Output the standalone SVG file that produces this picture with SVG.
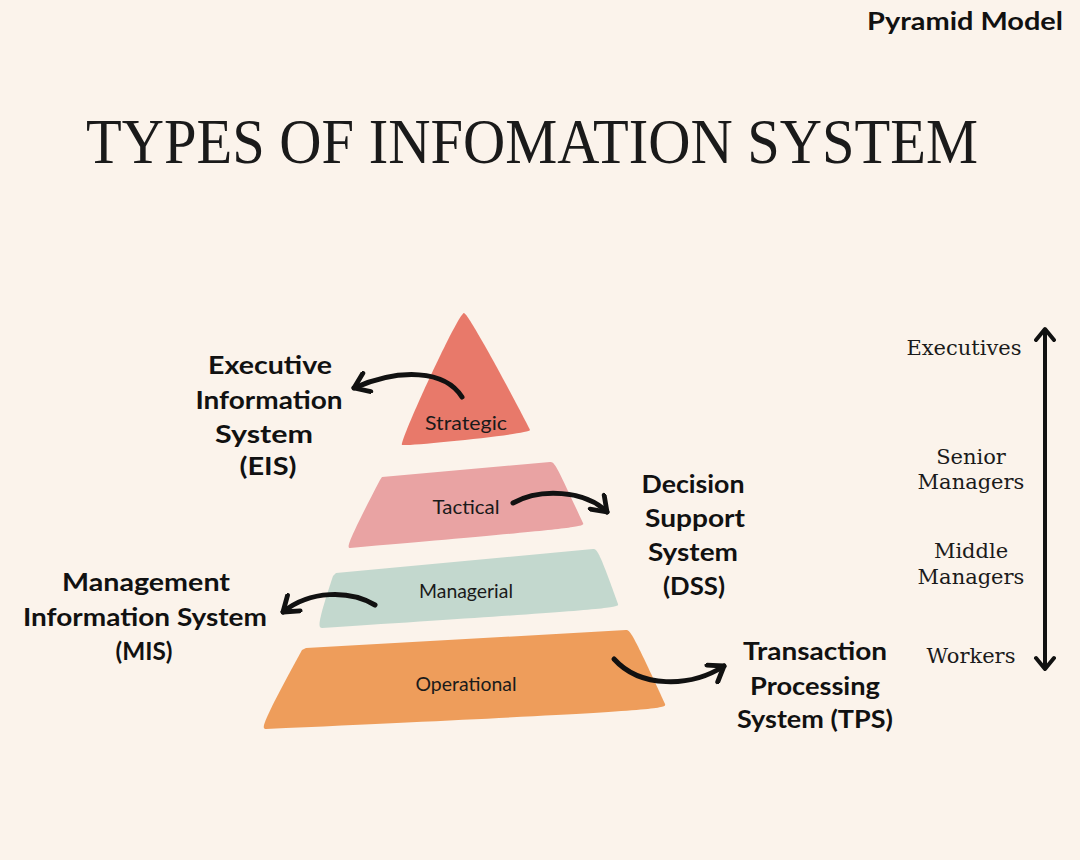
<svg xmlns="http://www.w3.org/2000/svg" width="1080" height="860" viewBox="0 0 1080 860">
<defs>
<style>
.hand{font-family:"Lato","Noto Sans",sans-serif;font-weight:bold;fill:#111;text-anchor:middle;font-size:25px}
.lbl{font-family:"Lato","Noto Sans",sans-serif;font-size:20px;fill:#1a1a1a;text-anchor:middle}
.serif{font-family:"DejaVu Serif","Liberation Serif",serif;fill:#1a1a1a;text-anchor:middle}
.conn{fill:none;stroke:#111;stroke-width:5;stroke-linecap:round}
</style>
<marker id="ah" viewBox="0 0 12 12" refX="9" refY="6" markerWidth="4.8" markerHeight="4.8" orient="auto" markerUnits="strokeWidth">
<path d="M2,1 L9,6 L2,11" fill="none" stroke="#111" stroke-width="2.4" stroke-linecap="round" stroke-linejoin="round"/>
</marker>
</defs>
<rect width="1080" height="860" fill="#FBF3EB"/>
<text x="965" y="30" class="hand" font-size="22" textLength="196" lengthAdjust="spacingAndGlyphs">Pyramid Model</text>
<text transform="translate(532,163) scale(1,1.1)" x="0" y="0" font-family="Liberation Serif, serif" font-size="58.5" fill="#1a1a1a" text-anchor="middle">TYPES OF INFOMATION SYSTEM</text>

<g id="strategic">
<path d="M464,313 C470,315 528,425 530,430 C531,434 410,446 402,445 C398,444 458,313 464,313 Z" fill="#E8796A"/>
<text x="466" y="430" class="lbl" textLength="82" lengthAdjust="spacingAndGlyphs">Strategic</text>
</g>
<g id="tactical">
<path d="M382,477 L550,462 C555,462 556,465 583,523 C585,527 580,528 350,548 C347,548 346,545 380,480 Z" fill="#E9A3A3"/>
<text x="466" y="514" class="lbl" textLength="67" lengthAdjust="spacingAndGlyphs">Tactical</text>
</g>
<g id="managerial">
<path d="M336,573 L593,549 C597,549 599,551 618,604 C619,608 615,609 322,628 C318,628 317,624 333,576 Z" fill="#C3D8CE"/>
<text x="466" y="598" class="lbl" textLength="94" lengthAdjust="spacingAndGlyphs">Managerial</text>
</g>
<g id="operational">
<path d="M306,648 L626,630 C630,630 632,632 665,704 C667,709 662,711 266,729 C261,729 261,725 302,650 Z" fill="#EE9D5B"/>
<text x="466" y="691" class="lbl" textLength="101" lengthAdjust="spacingAndGlyphs">Operational</text>
</g>

<g id="eis">
<text class="hand" x="270" y="374" textLength="124" lengthAdjust="spacingAndGlyphs">Executive</text>
<text class="hand" x="269" y="409" textLength="147" lengthAdjust="spacingAndGlyphs">Information</text>
<text class="hand" x="264" y="443" textLength="98" lengthAdjust="spacingAndGlyphs">System</text>
<text class="hand" x="268" y="475" textLength="57" lengthAdjust="spacingAndGlyphs">(EIS)</text>
</g>
<g id="dss">
<text class="hand" x="693" y="493" textLength="103" lengthAdjust="spacingAndGlyphs">Decision</text>
<text class="hand" x="695" y="527" textLength="100" lengthAdjust="spacingAndGlyphs">Support</text>
<text class="hand" x="693" y="561" textLength="90" lengthAdjust="spacingAndGlyphs">System</text>
<text class="hand" x="694" y="595" textLength="62" lengthAdjust="spacingAndGlyphs">(DSS)</text>
</g>
<g id="mis">
<text class="hand" x="146" y="591" textLength="168" lengthAdjust="spacingAndGlyphs">Management</text>
<text class="hand" x="145" y="626" textLength="244" lengthAdjust="spacingAndGlyphs">Information System</text>
<text class="hand" x="144" y="660" textLength="57" lengthAdjust="spacingAndGlyphs">(MIS)</text>
</g>
<g id="tps">
<text class="hand" x="815" y="660" textLength="144" lengthAdjust="spacingAndGlyphs">Transaction</text>
<text class="hand" x="815" y="695" textLength="130" lengthAdjust="spacingAndGlyphs">Processing</text>
<text class="hand" x="815" y="728" textLength="156" lengthAdjust="spacingAndGlyphs">System (TPS)</text>
</g>

<g id="levels">
<text class="serif" font-size="21" x="964" y="355">Executives</text>
<text class="serif" font-size="21"><tspan x="971" y="464">Senior</tspan><tspan x="971" y="489">Managers</tspan></text>
<text class="serif" font-size="21"><tspan x="971" y="558">Middle</tspan><tspan x="971" y="584">Managers</tspan></text>
<text class="serif" font-size="21" x="971" y="663">Workers</text>
</g>

<g id="connectors">
<path class="conn" d="M462,397 C445,370 400,368 354,388" marker-end="url(#ah)"/>
<path class="conn" d="M513,503 C540,488 585,490 607,512" marker-end="url(#ah)"/>
<path class="conn" d="M375,605 C350,590 310,590 283,612" marker-end="url(#ah)"/>
<path class="conn" d="M614,659 C640,688 690,688 724,666" marker-end="url(#ah)"/>
<line x1="1045" y1="330" x2="1045" y2="668" stroke="#111" stroke-width="4"/>
<path d="M1036,340 L1045,329 L1054,340 M1036,658 L1045,669 L1054,658" fill="none" stroke="#111" stroke-width="4" stroke-linecap="round" stroke-linejoin="round"/>
</g>
</svg>
